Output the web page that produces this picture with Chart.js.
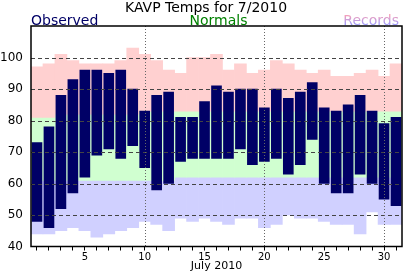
<!DOCTYPE html>
<html>
<head>
<meta charset="utf-8">
<script src="https://cdn.jsdelivr.net/npm/chart.js@4.4.1/dist/chart.umd.min.js"></script>
<style>
  body { margin: 0; background: #fff; }
</style>
</head>
<body>
<canvas id="grafico" width="412" height="276"></canvas>
<script>
// Dias de julho de 2010
const dias = [1,2,3,4,5,6,7,8,9,10,11,12,13,14,15,16,17,18,19,20,21,22,23,24,25,26,27,28,29,30,31];

// Observado (máx / mín)
const obsMax = [73,78,88,93,96,96,95,96,90,83,88,89,81,81,86,91,89,90,90,84,90,87,89,92,84,83,85,88,83,79,81];
const obsMin = [48,46,52,57,62,69,71,68,72,65,58,60,67,68,68,68,68,71,66,67,68,63,66,74,60,57,57,63,60,55,53];

// Normais
const normMax = [81,81,82,82,82,82,82,82,82,83,83,83,83,83,83,83,83,83,83,83,83,83,83,83,83,83,83,83,83,83,83];
const normMin = [61,61,61,61,61,61,61,61,61,61,61,61,62,62,62,62,62,62,62,62,62,62,62,62,62,62,62,62,62,62,62];

// Recordes
const recMax = [97,98,101,99,98,98,98,99,103,101,99,96,95,100,100,101,96,98,95,96,99,98,96,95,96,94,94,95,96,94,98];
const recMin = [44,44,45,46,45,43,44,45,46,48,47,45,49,48,49,48,47,49,49,46,47,50,49,49,48,47,47,44,51,47,47];

// Linhas de grade e eixo
const ticksY = [40,50,60,70,80,90,100];
const linhasY = [50,60,70,80,90,100];
const linhasX = [10,20,30];

const FONTE = 'DejaVu Sans';

// Junta dois arrays em barras flutuantes
function faixa(baixo, alto) {
    return baixo.map((v, i) => [v, alto[i]]);
}

// Grade por cima das barras, moldura e textos do topo
const sobreposicao = {
    id: 'sobreposicao',
    afterDatasetsDraw(chart) {
        const { ctx, chartArea: a, scales: { x, y } } = chart;
        ctx.save();
        ctx.lineWidth = 1;
        ctx.strokeStyle = '#444';
        ctx.setLineDash([4, 3]);
        linhasY.forEach(v => {
            const py = Math.round(y.getPixelForValue(v)) + 0.5;
            ctx.beginPath();
            ctx.moveTo(a.left, py);
            ctx.lineTo(a.right, py);
            ctx.stroke();
        });
        ctx.strokeStyle = '#666';
        ctx.setLineDash([1, 2]);
        linhasX.forEach(d => {
            const px = Math.round(x.getPixelForValue(dias.indexOf(d))) + 0.5;
            ctx.beginPath();
            ctx.moveTo(px, a.top);
            ctx.lineTo(px, a.bottom);
            ctx.stroke();
        });
        ctx.setLineDash([]);
        ctx.strokeStyle = '#000';
        ctx.lineWidth = 1.5;
        ctx.strokeRect(a.left, a.top, a.right - a.left, a.bottom - a.top);
        ctx.restore();
    },
    afterDraw(chart) {
        const { ctx, chartArea: a } = chart;
        ctx.save();
        ctx.textBaseline = 'alphabetic';
        ctx.font = '14px ' + FONTE;
        ctx.fillStyle = '#000';
        ctx.textAlign = 'center';
        ctx.fillText('KAVP Temps for 7/2010', chart.width / 2, 12);

        ctx.textAlign = 'left';
        ctx.fillStyle = '#000066';
        ctx.fillText('Observed', a.left, 25);

        ctx.textAlign = 'center';
        ctx.fillStyle = '#008000';
        ctx.fillText('Normals', (a.left + a.right) / 2 + 2, 25);

        // Recordes: rosa em cima, lilás embaixo
        ctx.textAlign = 'right';
        const grad = ctx.createLinearGradient(0, 14, 0, 25);
        grad.addColorStop(0, '#ffa0b0');
        grad.addColorStop(1, '#9c9cff');
        ctx.fillStyle = grad;
        ctx.fillText('Records', a.right - 3, 25);
        ctx.restore();
    }
};

const data = {
    labels: dias,
    datasets: [
        {
            label: 'Observed',
            data: faixa(obsMin, obsMax),
            backgroundColor: '#000066',
            barThickness: 10,
            grouped: false,
            order: 0,
        },
        {
            label: 'Record High',
            data: faixa(normMax, recMax),
            backgroundColor: '#ffd0d0',
            barPercentage: 1,
            categoryPercentage: 1,
            grouped: false,
            order: 1,
        },
        {
            label: 'Normals',
            data: faixa(normMin, normMax),
            backgroundColor: '#d0ffd0',
            barPercentage: 1,
            categoryPercentage: 1,
            grouped: false,
            order: 1,
        },
        {
            label: 'Record Low',
            data: faixa(recMin, normMin),
            backgroundColor: '#d0d0ff',
            barPercentage: 1,
            categoryPercentage: 1,
            grouped: false,
            order: 1,
        },
    ],
};

const config = {
    type: 'bar',
    data: data,
    options: {
        responsive: false,
        animation: false,
        events: [],
        layout: { padding: { top: 26, right: 10, left: 0, bottom: 0 } },
        plugins: {
            legend: { display: false },
            tooltip: { enabled: false },
            title: { display: false },
        },
        scales: {
            x: {
                offset: true,
                grid: { display: true, offset: false, drawOnChartArea: false, drawTicks: true, tickLength: 4, color: '#000' },
                border: { display: false },
                ticks: {
                    autoSkip: false,
                    maxRotation: 0,
                    padding: 1,
                    color: '#000',
                    font: { family: FONTE, size: 10 },
                    callback: (v, i) => (dias[i] % 5 === 0 ? String(dias[i]) : ''),
                },
                title: {
                    display: true,
                    text: 'July 2010',
                    color: '#000',
                    font: { family: FONTE, size: 11 },
                    padding: { top: 0, bottom: 3 },
                },
                afterFit: s => { s.height = 29.5; },
            },
            y: {
                min: 40,
                max: 110,
                grid: { display: false, drawTicks: false },
                border: { display: false },
                afterBuildTicks: s => { s.ticks = ticksY.map(v => ({ value: v })); },
                ticks: {
                    padding: 8,
                    color: '#000',
                    font: { family: FONTE, size: 12 },
                },
                afterFit: s => { s.width = 31; },
            },
        },
    },
    plugins: [sobreposicao],
};

window.onload = () => {
    const ctx = document.getElementById('grafico').getContext('2d');
    new Chart(ctx, config);
};
</script>
</body>
</html>
